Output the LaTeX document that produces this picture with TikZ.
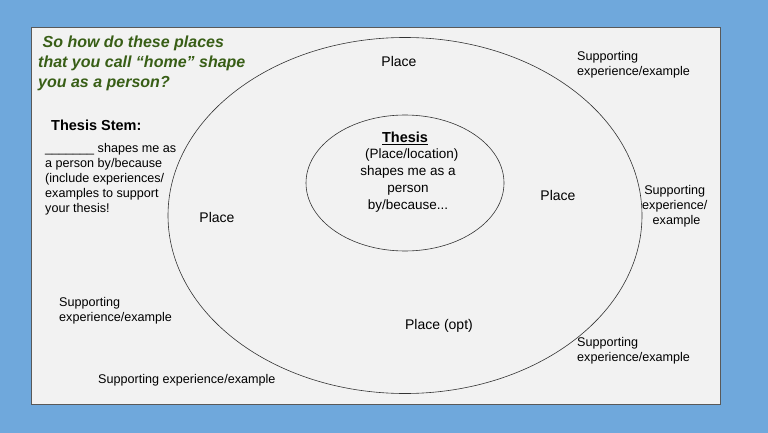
\documentclass[tikz,border=0pt]{standalone}
\usepackage{fontspec}
\usetikzlibrary{shapes.geometric}
\setmainfont{Liberation Sans}
\definecolor{bgblue}{RGB}{111,168,220}
\definecolor{panel}{RGB}{242,242,242}
\definecolor{titlegreen}{RGB}{56,94,22}
\tikzset{lbl/.style={font=\fontsize{12.6}{15}\selectfont, align=left, inner sep=0pt},
 plc/.style={font=\fontsize{14}{16}\selectfont, inner sep=0pt}}
\begin{document}
\begin{tikzpicture}[x=1pt,y=-1pt]
\fill[bgblue] (0,0) rectangle (768,433);
\path[fill=panel, draw=gray!70!black, line width=0.6pt] (31,27) rectangle (720,404);
\node[draw=black!80, line width=0.6pt, ellipse, minimum width=474, minimum height=356, inner sep=0pt] (outer) at (405,215.5) {};
\node[draw=black!80, line width=0.6pt, ellipse, minimum width=198, minimum height=136, inner sep=0pt] (inner) at (405,183) {};
\node[font=\bfseries\itshape\fontsize{16}{20}\selectfont, text=titlegreen, align=left, anchor=north west, inner sep=0pt] (title) at (38,36) {\ So how do these places\\that you call “home” shape\\you as a person?};
\node[font=\bfseries\fontsize{14.5}{16}\selectfont, anchor=north west, inner sep=0pt] (stem) at (51,120) {Thesis Stem:};
\node[lbl, anchor=north west] (stemtxt) at (45,143) {\_\_\_\_\_\_\_ shapes me as\\a person by/because\\(include experiences/\\examples to support\\your thesis!};
\node[font=\bfseries\fontsize{14.5}{16}\selectfont, inner sep=0pt] (thesis) at (405,138) {\underline{Thesis}};
\node[plc, align=center, font=\fontsize{13.5}{17}\selectfont] (tt) at (408,181) {\ \ (Place/location)\\shapes me as a\\person\\by/because...};
\node[plc] (p1) at (399,61) {Place};
\node[plc] (p2) at (558,195) {Place};
\node[plc] (p3) at (217,217) {Place};
\node[plc] (p4) at (439,326) {Place (opt)};
\node[lbl, anchor=west] (s1) at (577,65) {Supporting\\experience/example};
\node[lbl, anchor=west, align=center] (s2) at (642,206) {Supporting\\experience/\\\ example};
\node[lbl, anchor=west] (s3) at (59,311) {Supporting\\experience/example};
\node[lbl, anchor=west] (s4) at (577,351) {Supporting\\experience/example};
\node[lbl, anchor=west] (s5) at (98,380) {Supporting experience/example};
\end{tikzpicture}
\end{document}
